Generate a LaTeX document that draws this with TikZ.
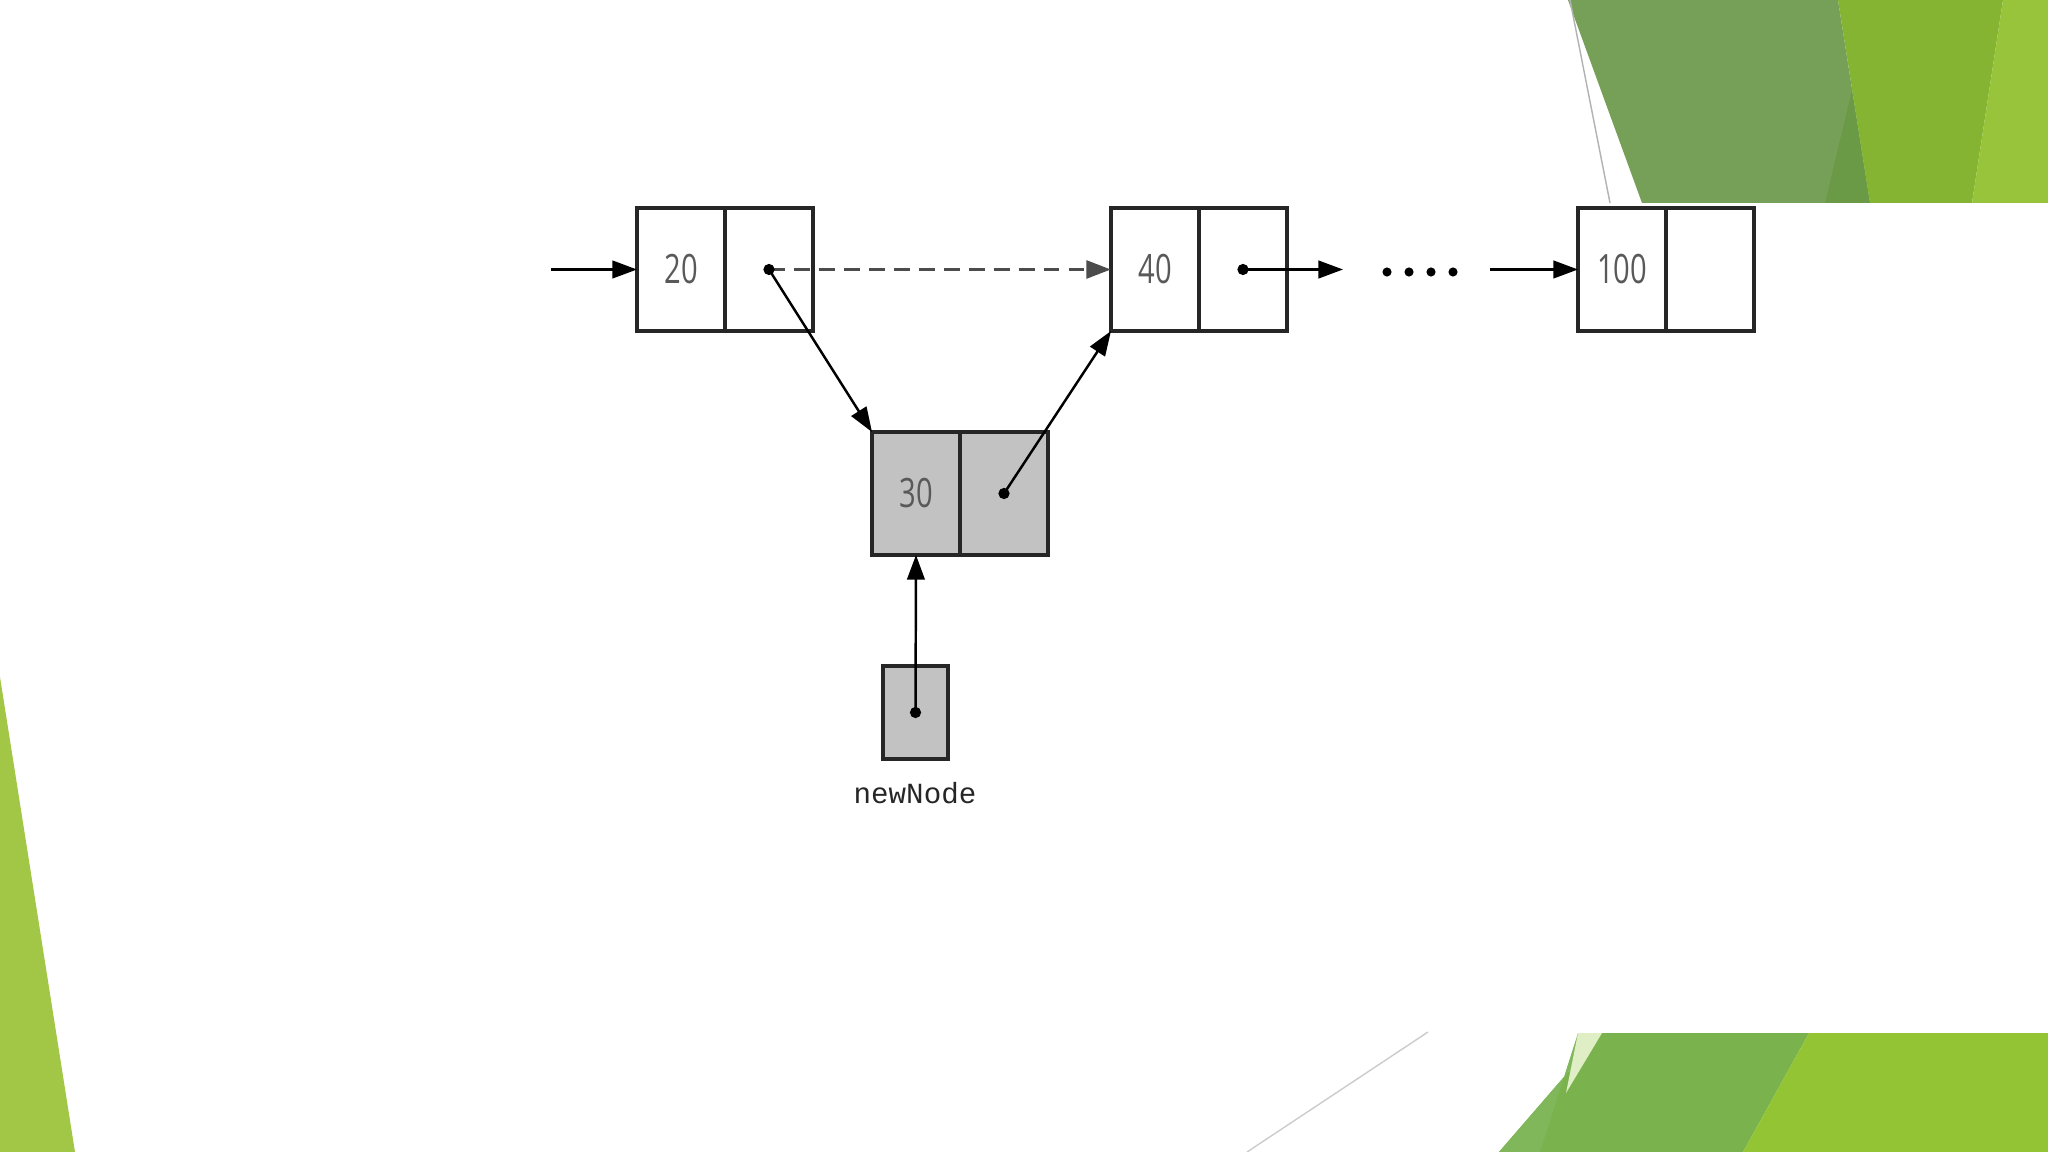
\documentclass[tikz,border=0pt]{standalone}
\usepackage{fontspec}
\usetikzlibrary{arrows.meta}
\newfontfamily\cellfont[FakeStretch=0.72]{Open Sans}
\setmonofont{Liberation Mono}
\definecolor{leafmuted}{HTML}{76A058}
\definecolor{leafshade}{HTML}{6A9A46}
\definecolor{leafbright}{HTML}{84B431}
\definecolor{leaflight}{HTML}{98C43C}
\definecolor{leafmid}{HTML}{7AB24E}
\definecolor{leafpale}{HTML}{DFEEC5}
\definecolor{leafband}{HTML}{80B75A}
\definecolor{leafyellow}{HTML}{93C434}
\definecolor{leafleft}{HTML}{A2C645}

\begin{document}
\begin{tikzpicture}[x=0.01cm, y=-0.01cm,
    cell/.style={draw=black!85, line width=1.1pt, minimum width=0.88cm, minimum height=1.23cm,
        inner sep=0pt, outer sep=0pt, font=\cellfont\fontsize{11.5}{12}\selectfont, text=black!65},
    newcell/.style={cell, fill=black!24},
    ptr/.style={line width=0.7pt, -{Triangle[length=7pt, width=5pt]}}]
    \useasboundingbox (0,0) rectangle (2048,1152);
    \fill[white] (0,0) rectangle (2048,1152);

    \fill[leafmuted] (1568,0) -- (1838,0) -- (1870,203) -- (1642,203) -- cycle;
    \fill[leafshade] (1852,90) -- (1870,203) -- (1825,203) -- cycle;
    \fill[leafbright] (1838,0) -- (2003,0) -- (1972,203) -- (1870,203) -- cycle;
    \fill[leaflight] (2003,0) -- (2048,0) -- (2048,203) -- (1972,203) -- cycle;
    \draw[gray!60, line width=0.4pt] (1570,0) -- (1610,203);

    \fill[leafmid] (1602,1033) -- (1809,1033) -- (1743,1152) -- (1499,1152) -- cycle;
    \fill[leafband] (1602,1033) -- (1578,1033) -- (1540,1152) -- (1499,1152) -- cycle;
    \fill[leafpale] (1578,1033) -- (1602,1033) -- (1566,1093) -- cycle;
    \fill[leafyellow] (1809,1033) -- (2048,1033) -- (2048,1152) -- (1743,1152) -- cycle;
    \draw[gray!40, line width=0.4pt] (1247,1152) -- (1428,1032);

    \fill[leafleft] (0,677) -- (75,1152) -- (0,1152) -- cycle;

    \node[cell] (n20) at (681,269.5) {20};
    \node[cell] (n20p) at (769,269.5) {};
    \node[cell] (n40) at (1155,269.5) {40};
    \node[cell] (n40p) at (1243,269.5) {};
    \node[cell] (n100) at (1622,269.5) {100};
    \node[cell] (n100p) at (1710,269.5) {};
    \node[newcell] (n30) at (916,493.5) {30};
    \node[newcell] (n30p) at (1004,493.5) {};
    \node[newcell, minimum width=0.65cm, minimum height=0.93cm] (nn) at (915.5,712.5) {};
    \node[text=black!85, font=\ttfamily\fontsize{8.3}{10}\selectfont] (nnlabel) at (915,793) {newNode};

    \coordinate (in20) at (551,269.5);
    \coordinate (out40) at (1343,269.5);
    \coordinate (in100) at (1490,269.5);

    \draw[ptr] (in20) -- (n20.west);
    \draw[ptr, black!70, line width=1.1pt, dash pattern=on 4.5pt off 2.6pt] (n20p.center) -- (n40.west);
    \draw[ptr] (n20p.center) -- (n30.north west);
    \draw[ptr] (n30p.center) -- (n40.south west);
    \draw[ptr] (n40p.center) -- (out40);
    \draw[ptr] (in100) -- (n100.west);
    \draw[ptr] (nn.center) -- (n30.south);

    \foreach \p in {n20p,n40p,n30p,nn}
        \fill (\p.center) circle (1.6pt);
    \foreach \x in {1387,1409,1431,1453}
        \fill (\x,272) circle (1.3pt);
\end{tikzpicture}
\end{document}
